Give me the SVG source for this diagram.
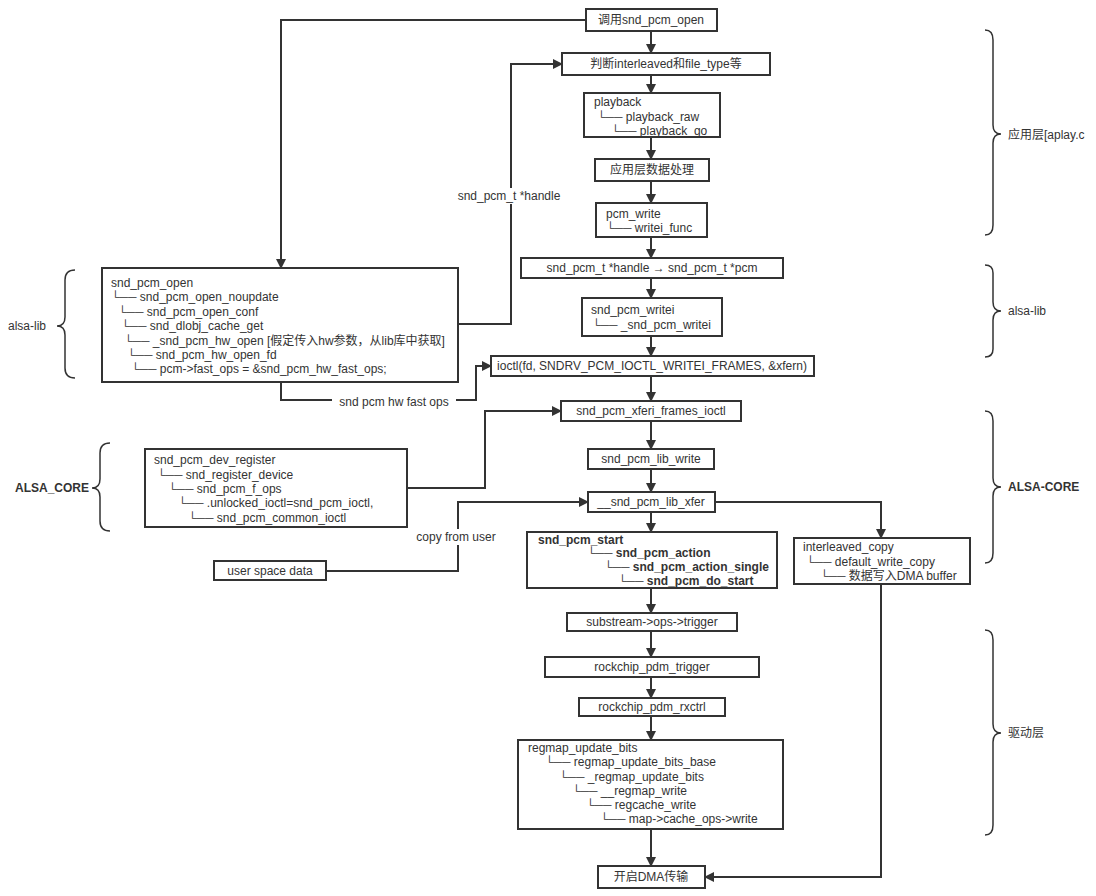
<svg xmlns="http://www.w3.org/2000/svg" width="1096" height="896" viewBox="0 0 1096 896">
<defs>
<marker id="ah" markerWidth="10" markerHeight="10" refX="9" refY="5" orient="auto" markerUnits="userSpaceOnUse"><path d="M0,0 L10,5 L0,10 Z" fill="#333"/></marker>
<style>
rect{fill:#fff;stroke:#333;stroke-width:2}
text{font-family:"Liberation Sans","Noto Sans CJK SC",sans-serif;font-size:12px;fill:#333}
.c{text-anchor:middle}
.b{font-weight:bold}
.e path{fill:none;stroke:#333;stroke-width:2}
.br{fill:none;stroke:#333;stroke-width:1.5}
.lb{fill:#fff}
</style>
</defs>
<rect x="0" y="0" width="1096" height="896" style="fill:#fff;stroke:none"/>
<g class="e" id="connectors">
<path d="M651,31 V53" marker-end="url(#ah)"/>
<path d="M651,75 V93" marker-end="url(#ah)"/>
<path d="M651,137 V159" marker-end="url(#ah)"/>
<path d="M651,181 V203" marker-end="url(#ah)"/>
<path d="M651,237 V258" marker-end="url(#ah)"/>
<path d="M651,278 V298" marker-end="url(#ah)"/>
<path d="M651,336 V356" marker-end="url(#ah)"/>
<path d="M651,376 V401" marker-end="url(#ah)"/>
<path d="M651,421 V449" marker-end="url(#ah)"/>
<path d="M651,469 V492" marker-end="url(#ah)"/>
<path d="M651,512 V532" marker-end="url(#ah)"/>
<path d="M651,588 V613" marker-end="url(#ah)"/>
<path d="M651,631 V657" marker-end="url(#ah)"/>
<path d="M651,677 V698" marker-end="url(#ah)"/>
<path d="M651,716 V740" marker-end="url(#ah)"/>
<path d="M651,829 V866" marker-end="url(#ah)"/>
<path d="M586,20 H281 V268" marker-end="url(#ah)"/>
<path d="M458,324 H511 V64 H562" marker-end="url(#ah)"/>
<path d="M281,382 V400 H476 V366 H491" marker-end="url(#ah)"/>
<path d="M407,488 H485 V411 H561" marker-end="url(#ah)"/>
<path d="M326,571 H458 V502 H588" marker-end="url(#ah)"/>
<path d="M715,502 H881 V538" marker-end="url(#ah)"/>
<path d="M881,584 V877 H705" marker-end="url(#ah)"/>
</g>
<g id="edge-labels">
<rect class="lb" x="455" y="188" width="108" height="16" style="stroke:none"/>
<text x="509" y="200" class="c">snd_pcm_t *handle</text>
<rect class="lb" x="332" y="394" width="124" height="16" style="stroke:none"/>
<text x="394" y="406" class="c">snd pcm hw fast ops</text>
<rect class="lb" x="410" y="529" width="92" height="16" style="stroke:none"/>
<text x="456" y="541" class="c">copy from user</text>
</g>
<g id="n1"><rect x="586" y="9" width="131" height="22"/><text x="651" y="24" class="c">调用snd_pcm_open</text></g>
<g id="n2"><rect x="562" y="53" width="208" height="22"/><text x="666" y="68" class="c">判断interleaved和file_type等</text></g>
<g id="n3"><rect x="584" y="93" width="136" height="44"/><text x="594" y="106">playback</text><text x="597" y="121">└── playback_raw</text><text x="611" y="135">└── playback_go</text></g>
<g id="n4"><rect x="595" y="159" width="114" height="22"/><text x="652" y="174" class="c">应用层数据处理</text></g>
<g id="n5"><rect x="596" y="203" width="111" height="34"/><text x="606" y="218">pcm_write</text><text x="606" y="232">└── writei_func</text></g>
<g id="n6"><rect x="521" y="258" width="262" height="20"/><text x="652" y="272" class="c">snd_pcm_t *handle → snd_pcm_t *pcm</text></g>
<g id="n7"><rect x="582" y="298" width="140" height="38"/><text x="591" y="314">snd_pcm_writei</text><text x="592" y="329">└── _snd_pcm_writei</text></g>
<g id="n8"><rect x="491" y="356" width="323" height="20"/><text x="652" y="370" class="c">ioctl(fd, SNDRV_PCM_IOCTL_WRITEI_FRAMES, &amp;xfern)</text></g>
<g id="n9"><rect x="561" y="401" width="180" height="20"/><text x="651" y="415" class="c">snd_pcm_xferi_frames_ioctl</text></g>
<g id="n10"><rect x="588" y="449" width="126" height="20"/><text x="651" y="463" class="c">snd_pcm_lib_write</text></g>
<g id="n11"><rect x="588" y="492" width="127" height="20"/><text x="651" y="506" class="c">__snd_pcm_lib_xfer</text></g>
<g id="n12"><rect x="527" y="532" width="250" height="56"/><text x="538" y="544" class="b">snd_pcm_start</text><text x="587" y="557" class="b">└── snd_pcm_action</text><text x="604" y="571" class="b">└── snd_pcm_action_single</text><text x="618" y="585" class="b">└── snd_pcm_do_start</text></g>
<g id="n13"><rect x="567" y="613" width="170" height="18"/><text x="652" y="626" class="c">substream-&gt;ops-&gt;trigger</text></g>
<g id="n14"><rect x="545" y="657" width="214" height="20"/><text x="652" y="671" class="c">rockchip_pdm_trigger</text></g>
<g id="n15"><rect x="579" y="698" width="146" height="18"/><text x="652" y="711" class="c">rockchip_pdm_rxctrl</text></g>
<g id="n16"><rect x="518" y="740" width="265" height="89"/><text x="528" y="752">regmap_update_bits</text><text x="545" y="766">└── regmap_update_bits_base</text><text x="559" y="781">└──  _regmap_update_bits</text><text x="572" y="795">└──  __regmap_write</text><text x="586" y="809">└──  regcache_write</text><text x="600" y="823">└── map-&gt;cache_ops-&gt;write</text></g>
<g id="n17"><rect x="598" y="866" width="107" height="22"/><text x="651" y="881" class="c">开启DMA传输</text></g>
<g id="n18"><rect x="794" y="538" width="176" height="46"/><text x="803" y="551">interleaved_copy</text><text x="806" y="566">└──  default_write_copy</text><text x="820" y="580">└── 数据写入DMA buffer</text></g>
<g id="n19"><rect x="102" y="268" width="356" height="114"/><text x="111" y="287">snd_pcm_open</text><text x="111" y="301">└──  snd_pcm_open_noupdate</text><text x="118" y="316">└──  snd_pcm_open_conf</text><text x="121" y="330">└── snd_dlobj_cache_get</text><text x="124" y="345">└──  _snd_pcm_hw_open [假定传入hw参数，从lib库中获取]</text><text x="127" y="359">└──  snd_pcm_hw_open_fd</text><text x="131" y="373">└──  pcm-&gt;fast_ops = &amp;snd_pcm_hw_fast_ops;</text></g>
<g id="n20"><rect x="145" y="449" width="262" height="78"/><text x="154" y="464">snd_pcm_dev_register</text><text x="157" y="479">└──  snd_register_device</text><text x="168" y="493">└──  snd_pcm_f_ops</text><text x="178" y="507">└── .unlocked_ioctl=snd_pcm_ioctl,</text><text x="188" y="522">└── snd_pcm_common_ioctl</text></g>
<g id="n21"><rect x="214" y="561" width="112" height="19"/><text x="270" y="575" class="c">user space data</text></g>
<g id="braces">
<path class="br" d="M985,30 Q993,30 993,40 V125 Q993,134 1001,134 Q993,134 993,143 V225 Q993,235 985,235"/>
<text x="1008" y="139">应用层[aplay.c</text>
<path class="br" d="M985,265 Q993,265 993,273 V302 Q993,311 1001,311 Q993,311 993,320 V349 Q993,357 985,357"/>
<text x="1008" y="315">alsa-lib</text>
<path class="br" d="M985,411 Q993,411 993,421 V478 Q993,487 1001,487 Q993,487 993,496 V553 Q993,563 985,563"/>
<text x="1008" y="491" class="b">ALSA-CORE</text>
<path class="br" d="M985,630 Q993,630 993,640 V724 Q993,733 1001,733 Q993,733 993,742 V825 Q993,835 985,835"/>
<text x="1008" y="737">驱动层</text>
<path class="br" d="M75,270 Q65,270 65,280 V317 Q65,326 57,326 Q65,326 65,335 V368 Q65,378 75,378"/>
<text x="8" y="330">alsa-lib</text>
<path class="br" d="M110,443 Q100,443 100,453 V479 Q100,488 92,488 Q100,488 100,497 V521 Q100,531 110,531"/>
<text x="15" y="492" class="b">ALSA_CORE</text>
</g>
</svg>
